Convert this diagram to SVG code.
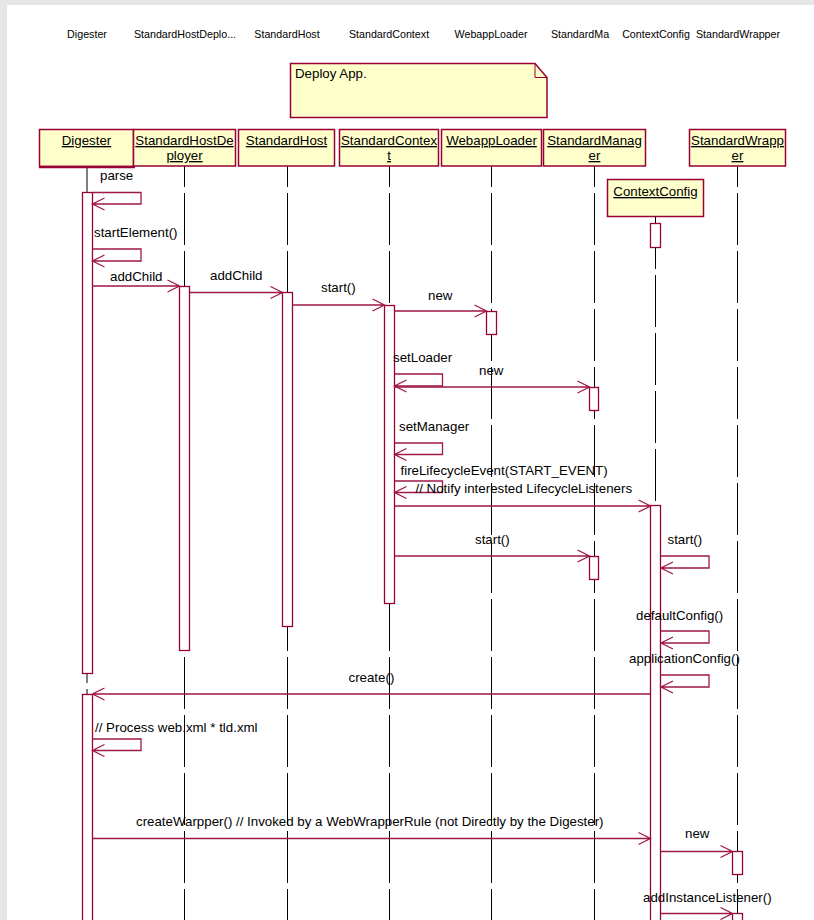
<svg xmlns="http://www.w3.org/2000/svg" width="814" height="920" viewBox="0 0 814 920">
<style>
.hdr{font-family:"Liberation Sans",Arial,sans-serif;font-size:10.7px;fill:#000;text-anchor:middle}
.box{fill:#ffffcc;stroke:#990033;stroke-width:1.5}
.bl{font-family:"Liberation Sans",Arial,sans-serif;font-size:13.3px;fill:#000;text-anchor:middle;text-decoration:underline}
.lbl{font-family:"Liberation Sans",Arial,sans-serif;font-size:13.3px;fill:#000}
.life{stroke:#000;stroke-width:1;stroke-dasharray:52 6;stroke-dashoffset:31;fill:none}
.act{fill:#fff;stroke:#990033;stroke-width:1.3}
.msg{fill:none;stroke:#a0174a;stroke-width:1.3}
</style>
<rect x="0" y="0" width="814" height="920" fill="#e6e6e6"/>
<rect x="7" y="5" width="807" height="915" fill="#fff"/>

<g id="header">
<text class="hdr" x="87" y="38">Digester</text>
<text class="hdr" x="185" y="38">StandardHostDeplo...</text>
<text class="hdr" x="287" y="38">StandardHost</text>
<text class="hdr" x="389" y="38">StandardContext</text>
<text class="hdr" x="491" y="38">WebappLoader</text>
<text class="hdr" x="580" y="38">StandardMa</text>
<text class="hdr" x="656" y="38">ContextConfig</text>
<text class="hdr" x="738" y="38">StandardWrapper</text>
</g>

<g id="note">
<path d="M290.5,63.5 H535 L547,77.5 V117.5 H290.5 Z" class="box"/>
<path d="M535,63.5 V77.5 H547" fill="none" stroke="#990033" stroke-width="1"/>
<text class="lbl" x="295" y="78">Deploy App.</text>
</g>

<g id="lifelines">
<line class="life" x1="87" y1="167" x2="87" y2="920" style="stroke-dashoffset:0"/>
<line class="life" x1="184.5" y1="166" x2="184.5" y2="920"/>
<line class="life" x1="287.5" y1="166" x2="287.5" y2="920"/>
<line class="life" x1="389.5" y1="166" x2="389.5" y2="920"/>
<line class="life" x1="491.5" y1="166" x2="491.5" y2="920"/>
<line class="life" x1="594.5" y1="166" x2="594.5" y2="920"/>
<line class="life" x1="655.5" y1="217" x2="655.5" y2="920" style="stroke-dashoffset:0"/>
<line class="life" x1="737.5" y1="166" x2="737.5" y2="920"/>
</g>

<g id="Digester">
<rect class="box" x="39.5" y="129.5" width="94" height="37"/>
<line x1="39" y1="167" x2="135" y2="167" stroke="#990033" stroke-width="2.5"/>
<text class="bl" x="86.5" y="145">Digester</text>
<rect class="act" x="82.5" y="192.5" width="10" height="481"/>
<rect class="act" x="82.5" y="694.5" width="10" height="230"/>
</g>
<g id="StandardHostDeployer">
<rect class="box" x="133.5" y="129.5" width="102" height="36.5"/>
<text class="bl" x="184.5" y="145">StandardHostDe</text>
<text class="bl" x="184.5" y="160">ployer</text>
<rect class="act" x="179.5" y="286.5" width="10" height="364"/>
</g>
<g id="StandardHost">
<rect class="box" x="238.5" y="129.5" width="96" height="36.5"/>
<text class="bl" x="286.5" y="145">StandardHost</text>
<rect class="act" x="282.5" y="292.5" width="10" height="334"/>
</g>
<g id="StandardContext">
<rect class="box" x="339.5" y="129.5" width="99" height="36.5"/>
<text class="bl" x="389" y="145">StandardContex</text>
<text class="bl" x="389" y="160">t</text>
<rect class="act" x="384.5" y="305.5" width="10" height="298"/>
</g>
<g id="WebappLoader">
<rect class="box" x="441.5" y="129.5" width="100" height="36.5"/>
<text class="bl" x="491.5" y="145">WebappLoader</text>
<rect class="act" x="486.5" y="311.5" width="10" height="23"/>
</g>
<g id="StandardManager">
<rect class="box" x="543.5" y="129.5" width="102" height="36.5"/>
<text class="bl" x="594.5" y="145">StandardManag</text>
<text class="bl" x="594.5" y="160">er</text>
<rect class="act" x="589.5" y="387.5" width="9" height="23"/>
<rect class="act" x="589.5" y="556.5" width="9" height="23"/>
</g>
<g id="ContextConfig">
<rect class="box" x="607.5" y="179.5" width="96" height="37"/>
<text class="bl" x="655.5" y="196">ContextConfig</text>
<rect class="act" x="650.5" y="223.5" width="10" height="24"/>
<rect class="act" x="650.5" y="505.5" width="10" height="420"/>
</g>
<g id="StandardWrapper">
<rect class="box" x="689.5" y="129.5" width="96" height="36.5"/>
<text class="bl" x="737.5" y="145">StandardWrapp</text>
<text class="bl" x="737.5" y="160">er</text>
<rect class="act" x="732.5" y="851.5" width="10" height="23"/>
<rect class="act" x="732.5" y="913.5" width="10" height="12"/>
</g>

<g id="connectors">
<path class="msg" d="M92.5,192.5 H141 V204 H92.5 M104.5,198 L92.5,204 L104.5,210"/>
<path class="msg" d="M92.5,249 H141 V261 H92.5 M104.5,255 L92.5,261 L104.5,267"/>
<path class="msg" d="M394.5,374 H442.5 V386 H394.5 M406.5,380 L394.5,386 L406.5,392"/>
<path class="msg" d="M394.5,443 H442.5 V454.5 H394.5 M406.5,448.5 L394.5,454.5 L406.5,460.5"/>
<path class="msg" d="M394.5,481 H442.5 V492.5 H394.5 M406.5,486.5 L394.5,492.5 L406.5,498.5"/>
<path class="msg" d="M661,556 H709 V568 H661 M673,562 L661,568 L673,574"/>
<path class="msg" d="M661,631 H709 V643 H661 M673,637 L661,643 L673,649"/>
<path class="msg" d="M661,675 H709 V687 H661 M673,681 L661,687 L673,693"/>
<path class="msg" d="M92.5,739 H141 V750.5 H92.5 M104.5,744.5 L92.5,750.5 L104.5,756.5"/>
<path class="msg" d="M92.5,286 H179.5 M167.5,280 L179.5,286 L167.5,292"/>
<path class="msg" d="M189.5,292.5 H282.5 M270.5,286.5 L282.5,292.5 L270.5,298.5"/>
<path class="msg" d="M292.5,305 H384.5 M372.5,299 L384.5,305 L372.5,311"/>
<path class="msg" d="M394.5,311 H486.5 M474.5,305 L486.5,311 L474.5,317"/>
<path class="msg" d="M394.5,387 H589.5 M577.5,381 L589.5,387 L577.5,393"/>
<path class="msg" d="M394.5,506 H650.5 M638.5,500 L650.5,506 L638.5,512"/>
<path class="msg" d="M394.5,556 H589.5 M577.5,550 L589.5,556 L577.5,562"/>
<path class="msg" d="M650.5,694 H92.5 M104.5,688 L92.5,694 L104.5,700"/>
<path class="msg" d="M92.5,838.5 H650.5 M638.5,832.5 L650.5,838.5 L638.5,844.5"/>
<path class="msg" d="M661,851.5 H732.5 M720.5,845.5 L732.5,851.5 L720.5,857.5"/>
<path class="msg" d="M661,913.5 H732.5 M720.5,907.5 L732.5,913.5 L720.5,919.5"/>
</g>

<g id="labels">
<text class="lbl" x="100" y="179.5">parse</text>
<text class="lbl" x="94" y="236.5">startElement()</text>
<text class="lbl" x="110" y="281">addChild</text>
<text class="lbl" x="210" y="280">addChild</text>
<text class="lbl" x="321" y="292">start()</text>
<text class="lbl" x="428" y="299.5">new</text>
<text class="lbl" x="393" y="361.5">setLoader</text>
<text class="lbl" x="479" y="374.5">new</text>
<text class="lbl" x="399" y="431">setManager</text>
<text class="lbl" x="400.5" y="474.5">fireLifecycleEvent(START_EVENT)</text>
<text class="lbl" x="415.5" y="493">// Notify interested LifecycleListeners</text>
<text class="lbl" x="475" y="543.5">start()</text>
<text class="lbl" x="667.5" y="543.5">start()</text>
<text class="lbl" x="636" y="619.5">defaultConfig()</text>
<text class="lbl" x="629" y="663">applicationConfig()</text>
<text class="lbl" x="348.5" y="682">create()</text>
<text class="lbl" x="95" y="732">// Process web.xml * tld.xml</text>
<text class="lbl" x="136" y="825.5">createWarpper() // Invoked by a WebWrapperRule (not Directly by the Digester)</text>
<text class="lbl" x="685" y="837.5">new</text>
<text class="lbl" x="643" y="901.5">addInstanceListener()</text>
</g>
</svg>
